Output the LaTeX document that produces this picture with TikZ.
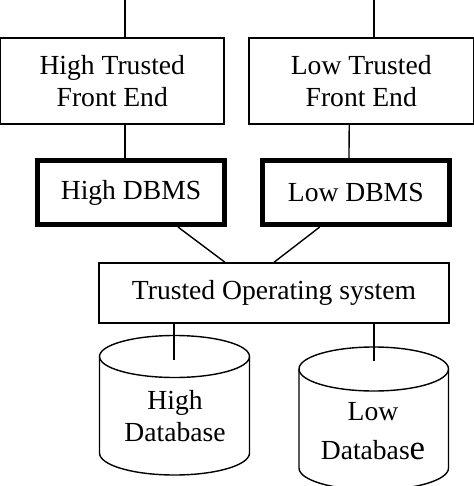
\documentclass[tikz,border=0pt]{standalone}
\usepackage{fontspec}
\setmainfont{Liberation Serif}
\begin{document}
\begin{tikzpicture}[x=0.5pt,y=-0.5pt,
  font=\fontsize{13.8}{16}\selectfont,
  box/.style={draw,line width=0.7pt,align=center,inner sep=0pt},
  dbmsbox/.style={draw,line width=2.5pt,inner sep=0pt},
  link/.style={line width=0.7pt}]
\useasboundingbox (0,0) rectangle (474,486);

% front ends
\node[box,minimum width=111.75pt,minimum height=43pt] (htfe) at (112.25,81) {High Trusted\\Front End};
\node[box,minimum width=112.25pt,minimum height=43pt] (ltfe) at (361.25,81) {Low Trusted\\Front End};

% DBMS
\node[dbmsbox,minimum width=93.5pt,minimum height=32pt] (hdbms) at (131,192.5) {High DBMS};
\node[dbmsbox,minimum width=93.75pt,minimum height=32pt] (ldbms) at (355.75,192.5) {Low DBMS};

\node[box,minimum width=175pt,minimum height=30pt] (tos) at (274,293) {Trusted Operating system};

\coordinate (hin) at (125,0);
\coordinate (lin) at (374,0);
\coordinate (hdbtop) at (174,360);
\coordinate (ldbtop) at (374,361);

\draw[link] (hin) -- (htfe.north -| hin);
\draw[link] (lin) -- (ltfe.north -| lin);
\draw[link] (htfe.south -| hin) -- (hdbms.north -| hin);
\draw[link] ([xshift=-6pt]ltfe.south) -- ([xshift=-3.4pt]ldbms.north);
\draw[link] ([xshift=23.5pt]hdbms.south) -- ([xshift=-24.5pt]tos.north);
\draw[link] ([xshift=-18pt]ldbms.south) -- (tos.north);
\draw[link] (tos.south -| hdbtop) -- (hdbtop);
\draw[link] (tos.south -| ldbtop) -- (ldbtop);

% databases
\draw[link] (174.5,356.5) ellipse [x radius=75, y radius=21];
\draw[link] (99.5,356.5) -- (99.5,453) arc [start angle=180, end angle=0, x radius=75, y radius=22] -- (249.5,356.5);
\node[align=center] (hdb) at (175,416) {High\\Database};

\draw[link] (373.75,369) ellipse [x radius=74.75, y radius=22];
\draw[link] (299,369) -- (299,468) arc [start angle=180, end angle=0, x radius=74.75, y radius=22] -- (448.5,369);
\node[align=center] (ldb) at (373,431) {Low\\[3.5pt]Databas{\fontsize{17.4}{16}\selectfont e}};
\end{tikzpicture}
\end{document}
